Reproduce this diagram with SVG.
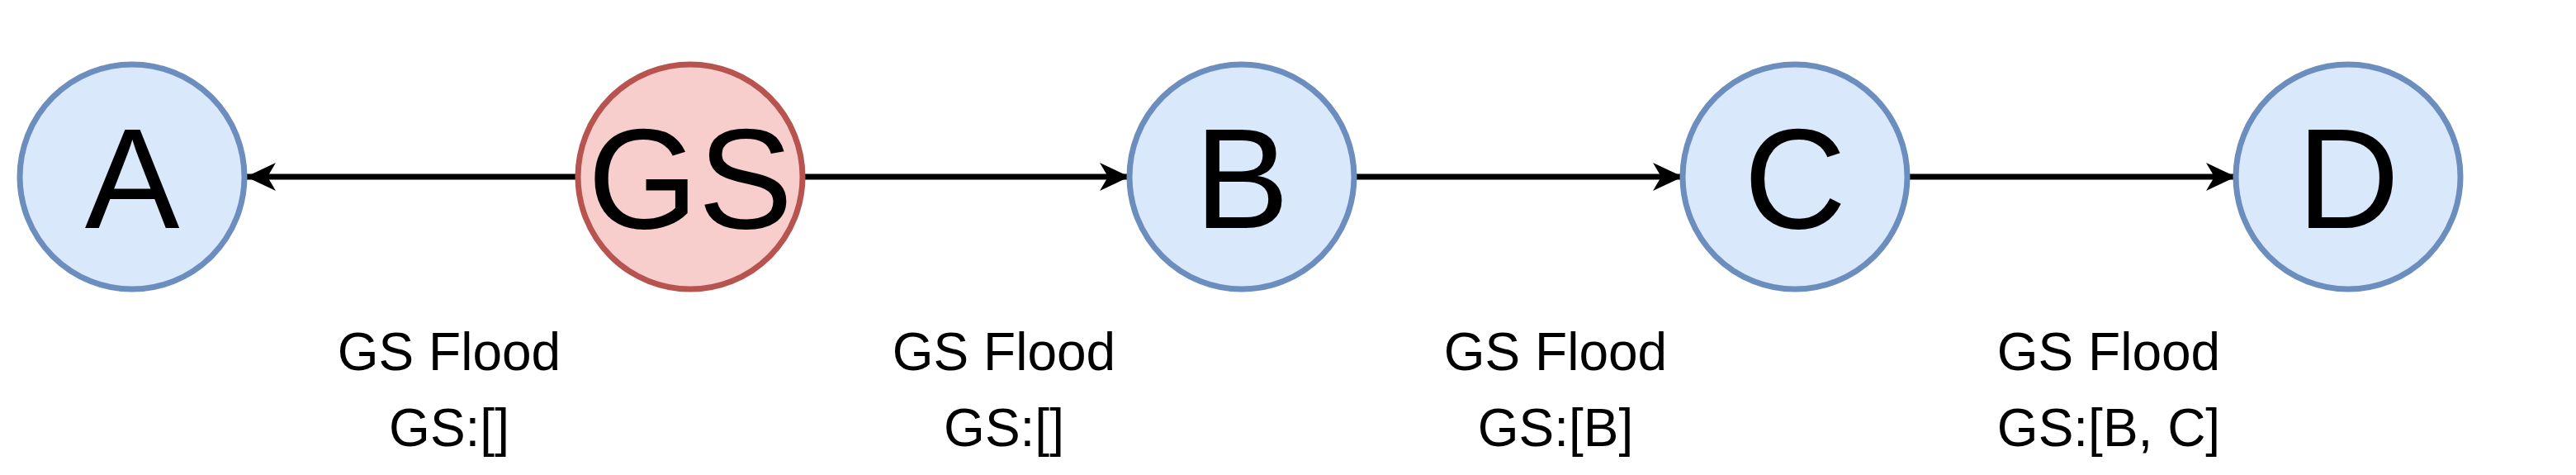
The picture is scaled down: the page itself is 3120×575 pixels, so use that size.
<svg xmlns="http://www.w3.org/2000/svg" width="3120" height="575" viewBox="0 0 3120 575">
<style>
.n{fill:#dae8fc;stroke:#6c8ebf;stroke-width:7}
.r{fill:#f8cecc;stroke:#b85450;stroke-width:7}
.t{font-family:"Liberation Sans",Arial,sans-serif;font-size:172px;text-anchor:middle;fill:#000}
.l{font-family:"Liberation Sans",Arial,sans-serif;font-size:64px;text-anchor:middle;fill:#000}
.e{stroke:#000;stroke-width:7;fill:none;marker-end:url(#a)}
</style>
<defs><marker id="a" markerUnits="userSpaceOnUse" markerWidth="40" markerHeight="40" viewBox="0 0 40 40" refX="36" refY="20" orient="auto"><path d="M0,3 L36,20 L0,37 L10,20 Z" fill="#000"/></marker></defs>
<g id="connectors">
<line class="e" x1="700" y1="214" x2="298" y2="214"/>
<line class="e" x1="972" y1="214" x2="1368" y2="214"/>
<line class="e" x1="1640" y1="214" x2="2038" y2="214"/>
<line class="e" x1="2310" y1="214" x2="2708" y2="214"/>
<text class="l" x="544" y="448">GS Flood</text><text class="l" x="544" y="540">GS:[]</text>
<text class="l" x="1216" y="448">GS Flood</text><text class="l" x="1216" y="540">GS:[]</text>
<text class="l" x="1884" y="448">GS Flood</text><text class="l" x="1884" y="540">GS:[B]</text>
<text class="l" x="2554" y="448">GS Flood</text><text class="l" x="2554" y="540">GS:[B, C]</text>
</g>
<g id="A"><circle class="n" cx="160" cy="214" r="136"/><text class="t" x="160" y="276">A</text></g>
<g id="GS"><circle class="r" cx="836" cy="214" r="136"/><text class="t" x="836" y="276">GS</text></g>
<g id="B"><circle class="n" cx="1504" cy="214" r="136"/><text class="t" x="1504" y="276">B</text></g>
<g id="C"><circle class="n" cx="2174" cy="214" r="136"/><text class="t" x="2174" y="276">C</text></g>
<g id="D"><circle class="n" cx="2844" cy="214" r="136"/><text class="t" x="2844" y="276">D</text></g>
</svg>
